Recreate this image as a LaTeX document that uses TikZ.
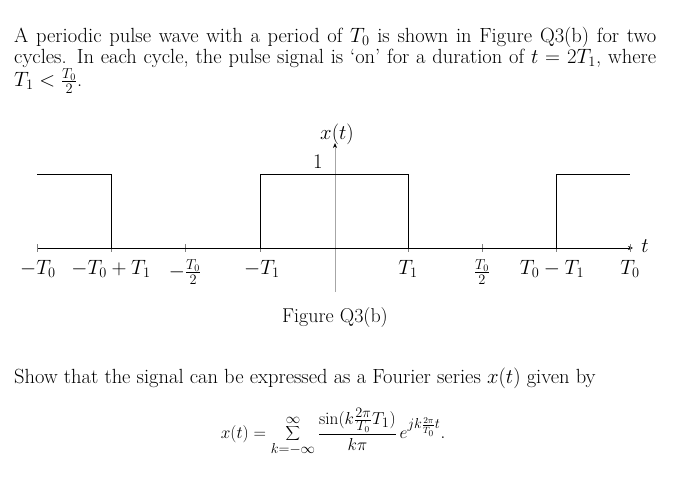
\documentclass[tikz,border=0pt]{standalone}
\usetikzlibrary{arrows.meta}
\begin{document}
\begin{tikzpicture}[x=1pt,y=-1pt,
  sig/.style={line width=1pt},
  lab/.style={font=\fontsize{19.5}{21}\selectfont, inner sep=1pt},
  txt/.style={font=\fontsize{20.5}{20.5}\selectfont, text width=642pt, align=justify, inner sep=0pt, anchor=north west}]
\useasboundingbox (0,0) rectangle (678,479);
\node[txt] (intro) at (14,27) {A periodic pulse wave with a period of $T_0$ is shown in Figure Q3(b) for two cycles. In each cycle, the pulse signal is `on' for a duration of $t=2T_1$, where $T_1<\frac{T_0}{2}$.};
% axes
\coordinate (tl) at (37,248);
\coordinate (tr) at (633,248);
\coordinate (vb) at (335,292);
\coordinate (vt) at (335,143);
\draw[gray!70, line width=0.8pt, -{Stealth[length=5pt,width=4pt,color=black]}] (vb) -- (vt);
\draw[line width=0.6pt, -{Stealth[length=5pt,width=4pt]}] (tl) -- (tr);
\foreach \x in {37,111,185,260,408,482,556,630}{\draw[line width=0.4pt,gray] (\x,244) -- (\x,252);}
% signal
\draw[sig] (37,174) -- (111,174) -- (111,248) -- (260,248) -- (260,174) -- (408,174) -- (408,248) -- (556,248) -- (556,174) -- (630,174);
\node[lab] (xt) at (337,134) {$x(t)$};
\node[lab] (one) at (318,162) {$1$};
\node[lab] (tv) at (645,246) {$t$};
\node[lab] (l1) at (38,269) {$-T_0$};
\node[lab] (l2) at (111,269) {$-T_0+T_1$};
\node[lab] (l3) at (185,272) {$-\frac{T_0}{2}$};
\node[lab] (l4) at (262,269) {$-T_1$};
\node[lab] (l5) at (408,269) {$T_1$};
\node[lab] (l6) at (482,272) {$\frac{T_0}{2}$};
\node[lab] (l7) at (552,269) {$T_0-T_1$};
\node[lab] (l8) at (630,269) {$T_0$};
\node[lab, font=\fontsize{20}{21}\selectfont] (cap) at (335,318) {Figure Q3(b)};
\node[txt] (show) at (14,368) {Show that the signal can be expressed as a Fourier series $x(t)$ given by};
\node[font=\fontsize{19}{21}\selectfont] (eq) at (333,432) {$\displaystyle x(t)=\sum_{k=-\infty}^{\infty}\frac{\sin(k\frac{2\pi}{T_0}T_1)}{k\pi}\,e^{jk\frac{2\pi}{T_0}t}.$};
\end{tikzpicture}
\end{document}
